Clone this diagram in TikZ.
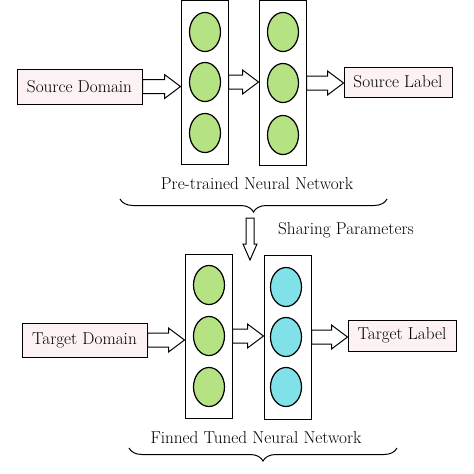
\documentclass[tikz,border=0pt]{standalone}
\usetikzlibrary{calc,shapes.geometric,decorations.pathreplacing}
\definecolor{pinkfill}{HTML}{FCF1F3}
\definecolor{greenfill}{HTML}{B5E384}
\definecolor{cyanfill}{HTML}{80E2E8}
\tikzset{
  x=1pt,y=-1pt,
  every node/.style={font=\fontsize{17.2}{20}\selectfont},
  labelbox/.style={draw,line width=1pt,fill=pinkfill,rectangle,inner sep=0pt},
  layerbox/.style={draw,line width=1pt,fill=white,rectangle,inner sep=0pt,minimum width=47pt},
  neuron/.style={draw,line width=1.2pt,ellipse,inner sep=0pt,minimum width=31pt,minimum height=39pt},
  gneuron/.style={neuron,fill=greenfill},
  cneuron/.style={neuron,fill=cyanfill},
  arrowline/.style={draw,line width=1pt,fill=white,line join=miter},
  bracestyle/.style={draw,line width=1pt,decorate,decoration={brace,amplitude=13pt}},
  plain/.style={inner sep=0pt}
}
\newcommand\harrow[2]{%
  \path[arrowline] let \p1=(#1), \p2=(#2) in
    (\x1,{\y1+7pt}) -- ({\x2-16pt},{\y1+7pt}) -- ({\x2-16pt},{\y1+12pt}) -- (\x2,\y1)
    -- ({\x2-16pt},{\y1-12pt}) -- ({\x2-16pt},{\y1-7pt}) -- (\x1,{\y1-7pt}) -- cycle;}
\begin{document}
\begin{tikzpicture}
\useasboundingbox (0,0) rectangle (474,474);
% top
\node[labelbox,minimum width=125pt,minimum height=35pt] (src) at (79.5,86.5) {Source Domain};
\node[layerbox,minimum height=164pt] (l1a) at (204.5,82) {};
\node[layerbox,minimum height=165pt] (l1b) at (282.5,83) {};
\node[gneuron] (n11) at (205,32) {};
\node[gneuron] (n12) at (205,82) {};
\node[gneuron] (n13) at (205,133) {};
\node[gneuron] (n21) at (283,32) {};
\node[gneuron] (n22) at (283,83) {};
\node[gneuron] (n23) at (283,135) {};
\node[labelbox,minimum width=108pt,minimum height=30pt] (srcl) at (398,82) {Source Label};
\harrow{src.east}{l1a.west}
\harrow{l1a.east}{l1b.west}
\harrow{l1b.east}{srcl.west}
\node[plain] (pre) at (257,184) {Pre-trained Neural Network};
\coordinate (b1l) at (120,199);
\coordinate (b1r) at (387,199);
\draw[bracestyle] (b1r) -- (b1l);
% sharing
\coordinate (sh) at (250,218);
\coordinate (st) at (250,260);
\path[arrowline] let \p1=(sh), \p2=(st) in
  ({\x1-4pt},\y1) -- ({\x1+4pt},\y1) -- ({\x1+4pt},{\y2+16pt}) -- ({\x1+7pt},{\y2+16pt})
  -- (\x1,\y2) -- ({\x1-7pt},{\y2+16pt}) -- ({\x1-4pt},{\y2+16pt}) -- cycle;
\node[plain,anchor=west] (shp) at (278,230) {Sharing Parameters};
% bottom
\node[labelbox,minimum width=125pt,minimum height=34pt] (tgt) at (84.5,340) {Target Domain};
\node[layerbox,minimum height=164pt] (l2a) at (208.5,336) {};
\node[layerbox,minimum height=164pt] (l2b) at (287.5,337) {};
\node[gneuron] (m11) at (209,285) {};
\node[gneuron] (m12) at (209,336) {};
\node[gneuron] (m13) at (209,387) {};
\node[cneuron] (m21) at (286,287) {};
\node[cneuron] (m22) at (286,337) {};
\node[cneuron] (m23) at (286,387) {};
\node[labelbox,minimum width=108pt,minimum height=31pt] (tgtl) at (402,335.5) {Target Label};
\harrow{tgt.east}{l2a.west}
\harrow{l2a.east}{l2b.west}
\harrow{l2b.east}{tgtl.west}
\node[plain] (fin) at (256,438) {Finned Tuned Neural Network};
\coordinate (b2l) at (129,448);
\coordinate (b2r) at (397,448);
\draw[bracestyle] (b2r) -- (b2l);
\end{tikzpicture}
\end{document}
